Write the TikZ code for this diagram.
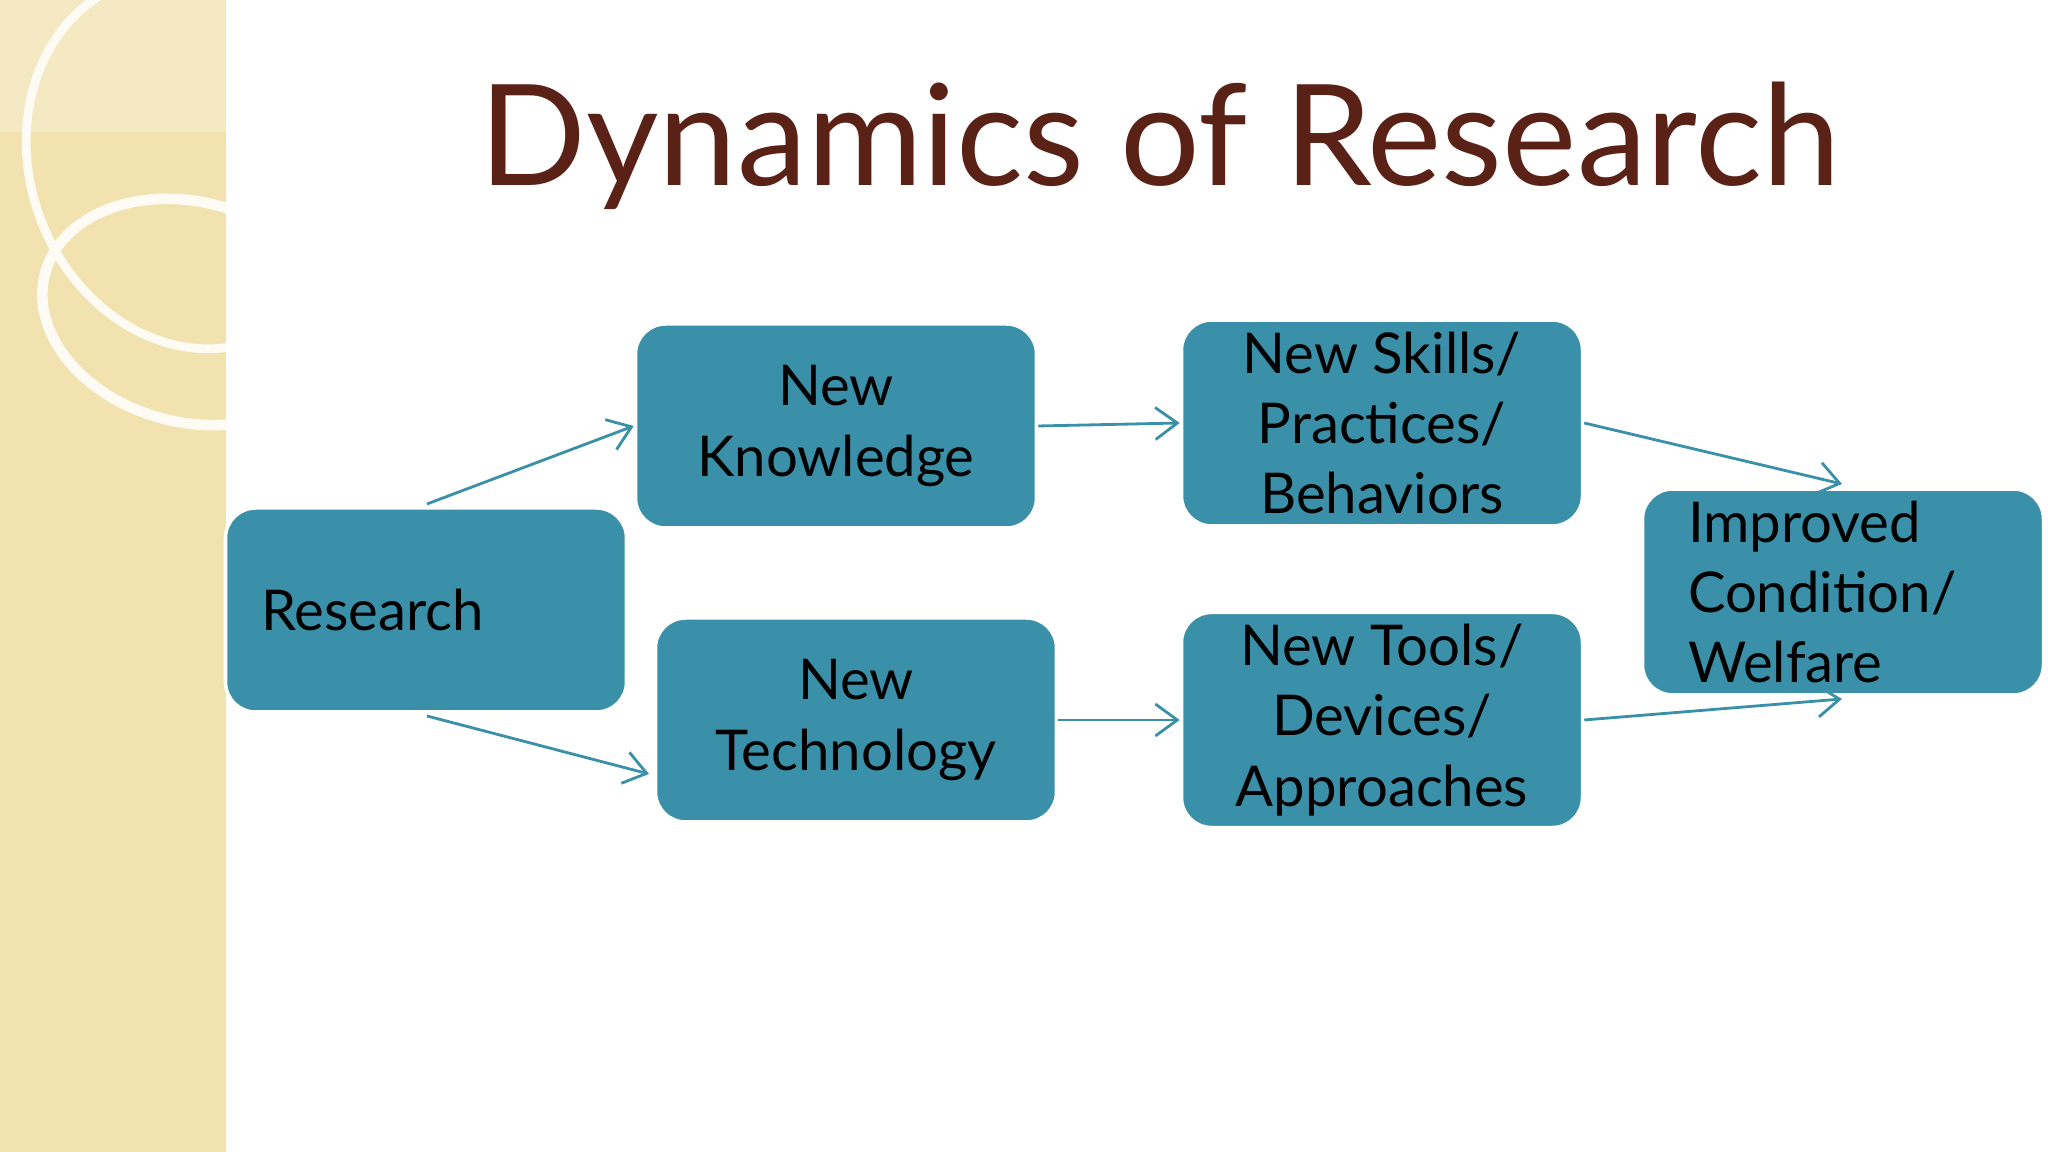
\documentclass[tikz,border=0pt]{standalone}
\usepackage{fontspec}
\setmainfont{Lato}
\usetikzlibrary{arrows.meta,positioning}
\definecolor{boxteal}{HTML}{3A90A8}
\definecolor{titlebrown}{HTML}{5A2116}
\definecolor{bandbeige}{HTML}{F1E2B0}
\begin{document}
\begin{tikzpicture}[
    box/.style={fill=boxteal, draw=white, line width=1pt, rounded corners=0.3cm,
        minimum width=4.01cm, minimum height=2.04cm, font=\fontsize{16}{20}\selectfont,
        align=center, text=black},
    flow/.style={draw=boxteal, line width=0.8pt, -{Straight Barb[length=2.2mm,width=3.2mm]}}]
    \useasboundingbox (0,0) rectangle (20.48,11.52);
    % left band
    \fill[bandbeige] (0,0) rectangle (2.26,11.52);
    \begin{scope}
        \clip (0,0) rectangle (2.26,11.52);
        \fill[white, opacity=0.25] (0,10.2) rectangle (2.26,11.52);
        \draw[white!85!bandbeige, line width=2.5pt, rotate around={20:(1.9,9.9)}] (1.9,9.9) ellipse (1.6 and 1.9);
        \draw[white!85!bandbeige, line width=3pt, rotate around={-15:(1.9,8.4)}] (1.9,8.4) ellipse (1.5 and 1.1);
    \end{scope}
    % title
    \node[text=titlebrown, font=\fontsize{40}{46}\selectfont] (title) at (11.6,10.06) {Dynamics of Research};
    % boxes
    \node[box, align=left, text width=3.3cm] (res) at (4.26,5.42) {Research};
    \node[box] (know) at (8.36,7.26) {New\\Knowledge};
    \node[box] (tech) at (8.56,4.32) {New\\Technology};
    \node[box] (skill) at (13.82,7.29) {New Skills/\\Practices/\\Behaviors};
    \node[box] (tool) at (13.82,4.32) {New Tools/\\Devices/\\Approaches};
    \node[box, align=left, text width=3.1cm] (imp) at (18.43,5.60) {Improved\\Condition/\\Welfare};
    % connectors
    \coordinate (rtop) at (4.27,6.48);
    \coordinate (rbot) at (4.27,4.36);
    \coordinate (techin) at (6.49,3.78);
    \coordinate (imptop) at (18.42,6.68);
    \coordinate (impbot) at (18.42,4.53);
    \draw[flow] (rtop) -- (know.west);
    \draw[flow] (rbot) -- (techin);
    \draw[flow] (know.east) -- (skill.west);
    \draw[flow] (tech.east) -- (tool.west);
    \draw[flow] (skill.east) -- (imptop);
    \draw[flow] (tool.east) -- (impbot);
\end{tikzpicture}
\end{document}
